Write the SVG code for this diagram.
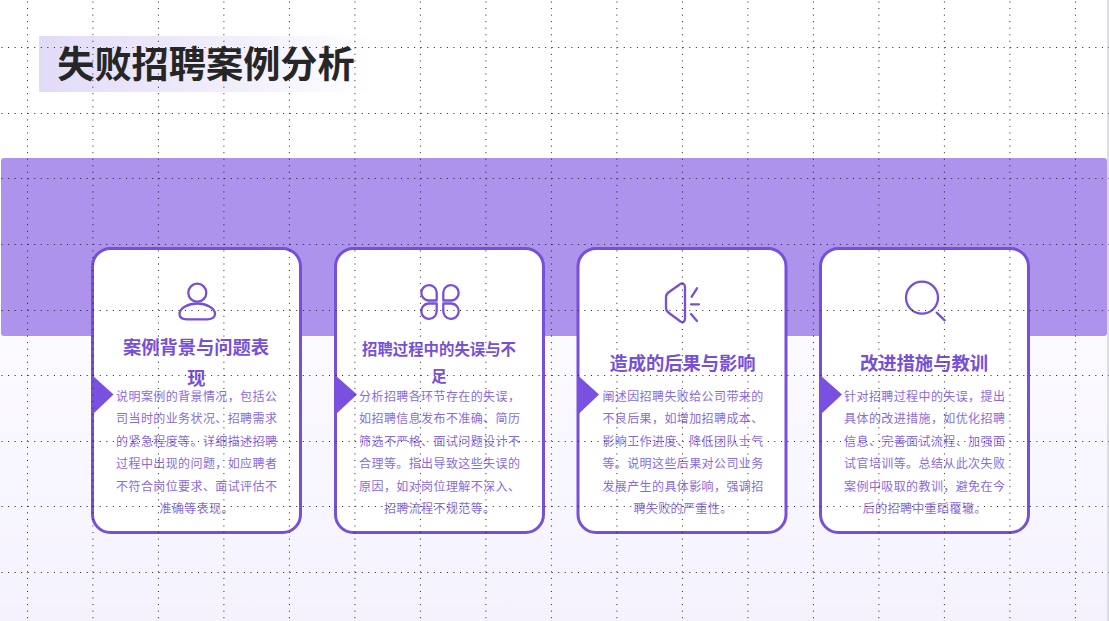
<svg xmlns="http://www.w3.org/2000/svg" width="1109" height="621" viewBox="0 0 1109 621">
<defs>
<linearGradient id="bg" x1="0" y1="0" x2="0" y2="1"><stop offset="0" stop-color="#ffffff"/><stop offset="0.3" stop-color="#ffffff"/><stop offset="1" stop-color="#f5f2fe"/></linearGradient>
<linearGradient id="hl" x1="0" y1="0" x2="1" y2="0"><stop offset="0" stop-color="#e2dbf8"/><stop offset="0.6" stop-color="#f2effc"/><stop offset="1" stop-color="#ffffff"/></linearGradient>
</defs>
<style>
text{font-family:"Noto Sans CJK SC","Liberation Sans",sans-serif;text-anchor:middle}
.card{fill:#fff;stroke:#7650d8;stroke-width:3}
.tri{fill:#7a50e0}
.ic{fill:none;stroke:#7650d8;stroke-width:2.3;stroke-linecap:round;stroke-linejoin:round}
.h{font-weight:700;fill:#7650d8;font-size:18.3px}
.h2{font-weight:700;fill:#7650d8;font-size:15.4px}
.b{fill:#8a6bdc;font-size:12px;letter-spacing:.4px}
.grid{fill:none;stroke:#222;stroke-width:1;stroke-dasharray:1 5.55;stroke-dashoffset:-1.5}
</style>
<rect width="1109" height="621" fill="url(#bg)"/>
<rect x="1107" y="0" width="2" height="621" fill="#dedde2"/>
<rect x="1" y="158" width="1106" height="178" rx="3" fill="#ad93ec"/>
<g id="title">
<rect x="39" y="36" width="336" height="56" fill="url(#hl)"/>
<text x="206" y="78" style="font-size:37.2px;font-weight:700;fill:#262626">失败招聘案例分析</text>
</g>
<g id="card1">
<rect class="card" x="92.5" y="248.5" width="208" height="284" rx="18"/>
<path class="tri" d="M92 375L113.500 394.500L92 415Z"/>
<g class="ic"><circle cx="197.300" cy="292.700" r="9"/><path d="M187 319.300H207C212 319.300 215 317 215 314C215 308 206 303.500 197.300 303.500C188.500 303.500 179.500 308 179.500 314C179.500 317 182 319.300 187 319.300Z"/></g>
<text class="h" x="196" y="353.500">案例背景与问题表</text>
<text class="h" x="196.500" y="385">现</text>
<text class="b" x="196.700" y="401">说明案例的背景情况，包括公</text>
<text class="b" x="196.700" y="423.400">司当时的业务状况、招聘需求</text>
<text class="b" x="196.700" y="445.800">的紧急程度等。详细描述招聘</text>
<text class="b" x="196.700" y="468.200">过程中出现的问题，如应聘者</text>
<text class="b" x="196.700" y="490.600">不符合岗位要求、面试评估不</text>
<text class="b" x="196.700" y="513">准确等表现。</text>
</g>
<g id="card2">
<rect class="card" x="335.500" y="248.500" width="208" height="284" rx="18"/>
<path class="tri" d="M335 375L357 394.500L335 415Z"/>
<path class="ic" d="M436.700 300.500H428.500A7.700 7.700 0 1 1 436.700 292.500ZM443.300 300.500V292.500A7.700 7.700 0 1 1 451.500 300.500ZM436.700 303.500V311A7.700 7.700 0 1 1 428.500 303.500ZM443.300 303.500H451.500A7.700 7.700 0 1 1 443.300 311Z"/>
<text class="h2" x="439" y="354.500">招聘过程中的失误与不</text>
<text class="h2" x="439" y="381.500">足</text>
<text class="b" x="439.700" y="401">分析招聘各环节存在的失误，</text>
<text class="b" x="439.700" y="423.400">如招聘信息发布不准确、简历</text>
<text class="b" x="439.700" y="445.800">筛选不严格、面试问题设计不</text>
<text class="b" x="439.700" y="468.200">合理等。指出导致这些失误的</text>
<text class="b" x="439.700" y="490.600">原因，如对岗位理解不深入、</text>
<text class="b" x="439.700" y="513">招聘流程不规范等。</text>
</g>
<g id="card3">
<rect class="card" x="578" y="248.500" width="208" height="284" rx="18"/>
<path class="tri" d="M577.500 375L599 394.500L577.500 415Z"/>
<path class="ic" d="M682 283.500C683.500 283.500 685 285 685 287V318.500C685 321.500 683 323 680.500 321.500L669 313C667 311.500 666 310 666 308V297C666 295 667 293.500 669 292L679 285C680 284 681 283.500 682 283.500ZM691.700 296.700L697 288.300M691 304.300H699M691 314L697 321"/>
<text class="h" x="682.500" y="369.500">造成的后果与影响</text>
<text class="b" x="683" y="401">阐述因招聘失败给公司带来的</text>
<text class="b" x="683" y="423.400">不良后果，如增加招聘成本、</text>
<text class="b" x="683" y="445.800">影响工作进度、降低团队士气</text>
<text class="b" x="683" y="468.200">等。说明这些后果对公司业务</text>
<text class="b" x="683" y="490.600">发展产生的具体影响，强调招</text>
<text class="b" x="683" y="513">聘失败的严重性。</text>
</g>
<g id="card4">
<rect class="card" x="820.500" y="248.500" width="208" height="284" rx="18"/>
<path class="tri" d="M820 375L842 394.500L820 415Z"/>
<g class="ic"><circle cx="922" cy="297.700" r="16"/><path d="M936.700 312.700L944.700 320.300"/></g>
<text class="h" x="924" y="369.500">改进措施与教训</text>
<text class="b" x="924.700" y="401">针对招聘过程中的失误，提出</text>
<text class="b" x="924.700" y="423.400">具体的改进措施，如优化招聘</text>
<text class="b" x="924.700" y="445.800">信息、完善面试流程、加强面</text>
<text class="b" x="924.700" y="468.200">试官培训等。总结从此次失败</text>
<text class="b" x="924.700" y="490.600">案例中吸取的教训，避免在今</text>
<text class="b" x="924.700" y="513">后的招聘中重蹈覆辙。</text>
</g>
<path class="grid" d="M27.500 0V621M92.900 0V621M158.400 0V621M223.900 0V621M289.400 0V621M354.900 0V621M420.400 0V621M485.900 0V621M551.400 0V621M616.900 0V621M682.400 0V621M747.900 0V621M813.400 0V621M878.900 0V621M944.400 0V621M1009.900 0V621M1075.400 0V621M0 47.500H1109M0 113.500H1109M0 178.500H1109M0 244.500H1109M0 310.500H1109M0 375.500H1109M0 441.500H1109M0 506.500H1109M0 572.500H1109"/>
</svg>
